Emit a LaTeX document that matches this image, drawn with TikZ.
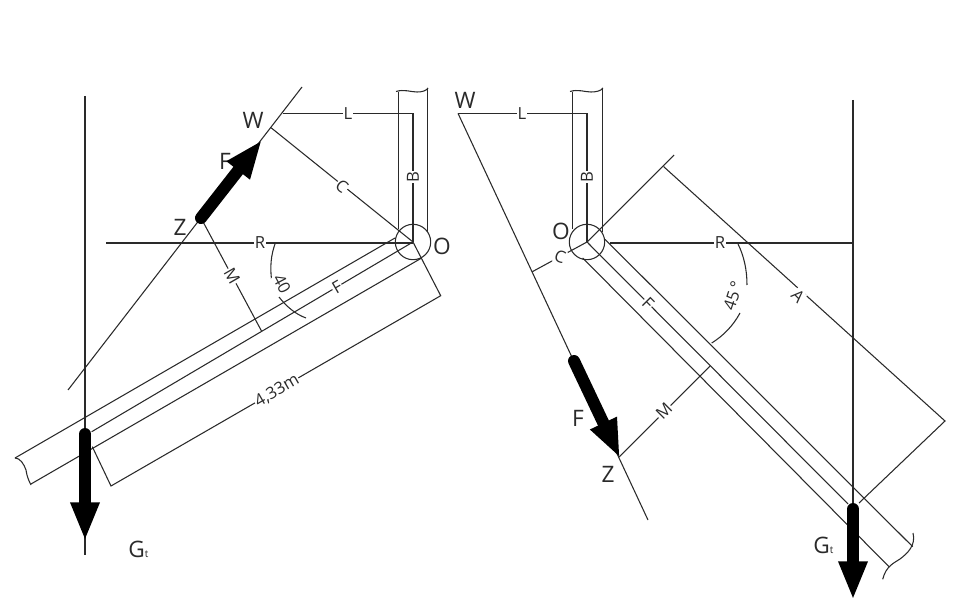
\documentclass[tikz,border=0pt]{standalone}
\usepackage{fontspec}
\setmainfont{Open Sans}
\usetikzlibrary{arrows.meta}
\definecolor{ink}{HTML}{2A2A2A}
\tikzset{
  ln/.style={draw=ink,line width=0.8pt},
  big/.style={text=ink,font=\fontsize{17}{18}\selectfont,inner sep=0pt},
  lab/.style={text=ink,font=\fontsize{12.5}{13}\selectfont,fill=white,inner sep=0.6pt},
  force/.style={draw=black,line width=9pt,line cap=round,-{Triangle[length=29pt,width=20pt]}}
}
\begin{document}
\begin{tikzpicture}[x=0.75pt,y=-0.75pt]
\useasboundingbox (0,0) rectangle (960,616);
% ---------- left figure: coordinates
\coordinate (Oa) at (413,242);
\coordinate (Ra) at (413,243);
\coordinate (Wa) at (271,127.7);
\coordinate (La) at (283,113.5);
\coordinate (Ba) at (413,113.5);
\coordinate (Za) at (201,218);
\coordinate (Fa) at (262,140);
\coordinate (Ma) at (261.5,331);
\coordinate (Da) at (440.7,295.7);
\coordinate (Db) at (111,486);
\coordinate (Dc) at (92.3,446.7);
\coordinate (Ga) at (85,434);
\coordinate (Gb) at (85,541);
% left figure: lines
\draw[ln] (302,87) -- (68,390);
\draw[ln] (Wa) -- (Oa);
\draw[ln] (La) -- (Ba) -- (Oa);
\draw[ln] (106,243) -- (Ra);
\draw[ln] (398.5,92) -- (398.5,229);
\draw[ln] (427.7,89) -- (427.7,232);
\draw[ln] (396,91.5) .. controls (404,89) and (411,92) .. (417,92) .. controls (422,92) and (426,91) .. (428,88);
\draw[ln] (395,238) -- (15,458);
\draw[ln] (421.7,258) -- (31,484);
\draw[ln] (Oa) -- (91.7,431.7);
\draw[ln] (15,458) .. controls (20,458) and (24,464) .. (26,470) .. controls (27,477) and (29,481) .. (31,485);
\draw[ln] (Oa) -- (Da) -- (Db) -- (Dc);
\draw[ln] (Za) -- (Ma);
\draw[ln] (275,244) .. controls (271,255) and (270,267) .. (271.5,279);
\draw[ln] (279,297) .. controls (286,306) and (295,314) .. (306,318);
\draw[ln] (85,96) -- (85,555);
% left labels
\node[lab] (lLa) at (348,113.5) {L};
\node[lab,rotate=90] (lBa) at (413,177) {B};
\node[lab,rotate=-40] (lCa) at (342,186) {C};
\node[lab] (lRa) at (260,243) {R};
\node[lab,rotate=-60] (lMa) at (232,276) {M};
\node[lab,rotate=30] (lFa) at (337,287) {F};
\node[lab,rotate=-62] (l40) at (282,284) {40};
\node[lab,rotate=30] (ldim) at (277,391) {4,33m};
\node[big] (nWa) at (253,120) {W};
\node[big] (nFa) at (225,161) {F};
\node[big] (nZa) at (180,227) {Z};
\node[big] (nOa) at (442,246) {O};
\node[big,anchor=base west] (nGa) at (128,557) {G\raisebox{-0.5pt}{\fontsize{7.5}{8}\selectfont t}};
\draw[ln] (Oa) circle[radius=17.7];
% left forces
\draw[force] (Za) -- (Fa);
\draw[force] (Ga) -- (Gb);
% ---------- right figure: coordinates
\coordinate (Ob) at (587,242);
\coordinate (Wb) at (458,113.3);
\coordinate (Bb) at (587,113.3);
\coordinate (Zb) at (619,457);
\coordinate (Fb) at (620,458);
\coordinate (Mb) at (710,366);
\coordinate (Cb) at (532.3,271.7);
\coordinate (Ab) at (663.5,166.5);
\coordinate (Ac) at (945,421);
\coordinate (Ad) at (859,503);
\coordinate (Gc) at (853,509);
\coordinate (Gd) at (853,600);
% right figure: lines
\draw[ln] (Wb) -- (648,520);
\draw[ln] (Wb) -- (Bb) -- (Ob);
\draw[ln] (Ob) -- (Cb);
\draw[ln] (572.9,92) -- (572.9,229);
\draw[ln] (602.7,89) -- (602.7,232);
\draw[ln] (570,91.5) .. controls (578,89) and (585,92) .. (591,92) .. controls (596,92) and (601,91) .. (603,88);
\draw[ln] (Ob) -- (674,155);
\draw[ln] (Ab) -- (Ac) -- (Ad);
\draw[ln] (610,243) -- (853,243);
\draw[ln] (853,100) -- (853,505);
\draw[ln] (605,239.3) -- (912.7,546.7);
\draw[ln] (582.7,258) -- (889,566.7);
\draw[ln] (Ob) -- (848,504);
\draw[ln] (913,533) .. controls (916,545) and (908,553) .. (900,559) .. controls (894,563) and (886,566) .. (882.7,579.3);
\draw[ln] (Zb) -- (Mb);
\draw[ln] (738,244) .. controls (744,256) and (747,270) .. (747,285);
\draw[ln] (740,313) .. controls (733,326) and (723,336) .. (711.7,343);
% right labels
\node[lab] (lLb) at (522,113.3) {L};
\node[lab,rotate=90] (lBb) at (587,177) {B};
\node[lab,rotate=-20] (lCb) at (560,257) {C};
\node[lab] (lRb) at (720,243) {R};
\node[lab,rotate=45] (lMb) at (664,411) {M};
\node[lab,rotate=-45] (lFb) at (648,303) {F};
\node[lab,rotate=-46] (lAb) at (798,296) {A};
\node[lab,rotate=72] (l45) at (733,296) {45\,°};
\node[big] (nWb) at (465,100) {W};
\node[big] (nOb) at (561,231) {O};
\node[big] (nFb) at (578,418) {F};
\node[big] (nZb) at (608,474) {Z};
\node[big,anchor=base west] (nGb) at (813,553) {G\raisebox{-0.5pt}{\fontsize{7.5}{8}\selectfont t}};
\draw[ln] (Ob) circle[radius=17.7];
% right forces
\draw[force] (574,361) -- (Fb);
\draw[force] (Gc) -- (Gd);
\end{tikzpicture}
\end{document}
